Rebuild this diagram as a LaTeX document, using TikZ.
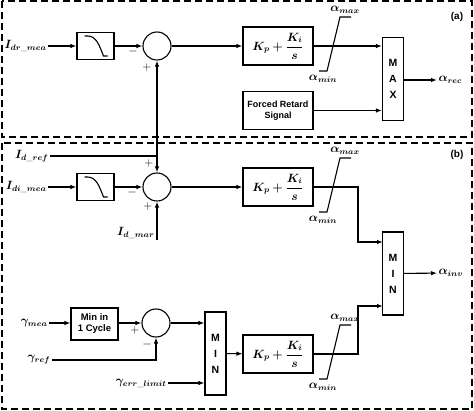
\documentclass[tikz,border=0pt]{standalone}
\usepackage{amsmath}
\usepackage{bm}
\usepackage{fontspec}
\setsansfont{Liberation Sans}
\usetikzlibrary{arrows.meta}

\begin{document}
\begin{tikzpicture}[x=1pt,y=-1pt,line width=1.1pt,>={Latex[length=6pt,width=4.5pt]},
  blk/.style={draw,minimum width=70pt,minimum height=38pt,inner sep=1pt,align=center},
  lpf/.style={draw,minimum width=37pt,minimum height=27pt},
  sumc/.style={draw,circle,minimum size=28pt,inner sep=0pt},
  sel/.style={draw,minimum width=21pt,minimum height=83pt,inner sep=1pt,align=center,
    font=\sffamily\bfseries\fontsize{10.5}{16}\selectfont},
  lbl/.style={font=\large,inner sep=1pt},
  sgn/.style={font=\large\bfseries,inner sep=0pt},
  zone/.style={line width=1.6pt,dash pattern=on 7pt off 4pt}]
  \useasboundingbox (0,0) rectangle (474,411);
  \draw[zone] (2,1) rectangle (472,137);
  \draw[zone] (2,143) rectangle (472,409);
  \node[font=\sffamily\bfseries] (laba) at (457,17) {(a)};
  \node[font=\sffamily\bfseries] (labb) at (457,155) {(b)};
  % (a) rectifier side
  \node[lbl,anchor=east] (idrmea) at (48,46) {$\bm{I_{dr\_mea}}$};
  \node[lpf] (lpfa) at (95.5,46) {};
  \node[sumc] (suma) at (157,46) {};
  \node[blk] (pia) at (278,46) {\large$\bm{K_p+\dfrac{K_i}{s}}$};
  \node[blk,font=\sffamily\bfseries\small] (frs) at (278,110.5) {Forced Retard\\Signal};
  \node[sel] (maxb) at (393,79) {M\\A\\X};
  \node[lbl,anchor=west] (arec) at (437,80) {$\bm{\alpha_{rec}}$};
  \node[sgn] (sa1) at (133,52) {$-$};
  \node[sgn] (sa2) at (147,68) {$+$};
  \draw[->] (idrmea) -- (lpfa);
  \draw[->] (lpfa) -- (suma);
  \draw[->] (suma) -- (pia);
  \draw[->] (pia) -- (pia -| maxb.west);
  \draw[->] (frs) -- (frs -| maxb.west);
  \draw[->] (maxb.east |- arec) -- (arec);
  % (b) inverter side
  \node[lbl,anchor=east] (idref) at (50,156) {$\bm{I_{d\_ref}}$};
  \node[lbl,anchor=east] (idimea) at (48,187) {$\bm{I_{di\_mea}}$};
  \node[lpf] (lpfb) at (95.5,187) {};
  \node[sumc] (sumb) at (157,187) {};
  \node[blk] (pib) at (278,187) {\large$\bm{K_p+\dfrac{K_i}{s}}$};
  \node[lbl,anchor=east] (idmar) at (156,233) {$\bm{I_{d\_mar}}$};
  \coordinate (idmarend) at (157,240);
  \node[sgn] (sb1) at (149,164) {$+$};
  \node[sgn] (sb2) at (132,193) {$-$};
  \node[sgn] (sb3) at (148,207) {$+$};
  \draw[->] (idref.east) -| (sumb.north);
  \draw[->] (idref -| sumb) -- (suma.south);
  \draw[->] (idimea) -- (lpfb);
  \draw[->] (lpfb) -- (sumb);
  \draw[->] (sumb) -- (pib);
  \draw[->] (idmarend) -- (sumb.south);
  % extinction angle loop
  \node[lbl,anchor=east] (gmea) at (49,323) {$\bm{\gamma_{mea}}$};
  \node[blk,minimum width=47pt,minimum height=32pt,font=\sffamily\bfseries\fontsize{9.5}{11}\selectfont] (mincyc) at (94.5,324) {Min in\\1 Cycle};
  \node[sumc] (sumg) at (156,323) {};
  \node[lbl,anchor=east] (gref) at (52,360) {$\bm{\gamma_{ref}}$};
  \node[lbl,anchor=east] (gerr) at (168,383) {$\bm{\gamma_{err\_limit}}$};
  \node[sel] (minb) at (215.5,353.5) {M\\I\\N};
  \node[blk] (pic) at (278,354) {\large$\bm{K_p+\dfrac{K_i}{s}}$};
  \node[sel] (mina) at (393,273.5) {M\\I\\N};
  \node[lbl,anchor=west] (ainv) at (437,273) {$\bm{\alpha_{inv}}$};
  \node[sgn] (sg1) at (135,331) {$+$};
  \node[sgn] (sg2) at (147,345) {$-$};
  \coordinate (bend) at (358,0);
  \coordinate (minain1) at (383,242);
  \coordinate (minain2) at (383,306);
  \draw[->] (gmea.east |- sumg) -- (mincyc.west |- sumg);
  \draw[->] (mincyc.east |- sumg) -- (sumg);
  \draw[->] (gref) -| (sumg.south);
  \draw[->] (sumg) -- (sumg -| minb.west);
  \draw[->] (gerr) -- (gerr -| minb.west);
  \draw[->] (minb) -- (pic);
  \draw[->] (pib.east) -- (pib -| bend) |- (minain1);
  \draw[->] (pic.east) -- (pic -| bend) |- (minain2);
  \draw[->] (mina) -- (ainv);
  % low pass curves
  \foreach \n in {lpfa,lpfb}
    \draw ([shift={(-11,-10)}]\n.center) -- ++(3,0) .. controls +(9,0) and +(-4,-10) .. ++(16,20) -- ++(4,0);
  % limiters
  \foreach \y/\n in {46/a,187/b,354/c}{
    \draw (319,\y+25) -- (327,\y+25) -- (340,\y-29) -- (351,\y-29);
    \node[lbl] (amax\n) at (345,\y-36) {$\bm{\alpha_{max}}$};
    \node[lbl] (amin\n) at (323,\y+33) {$\bm{\alpha_{min}}$};
  }
\end{tikzpicture}
\end{document}
